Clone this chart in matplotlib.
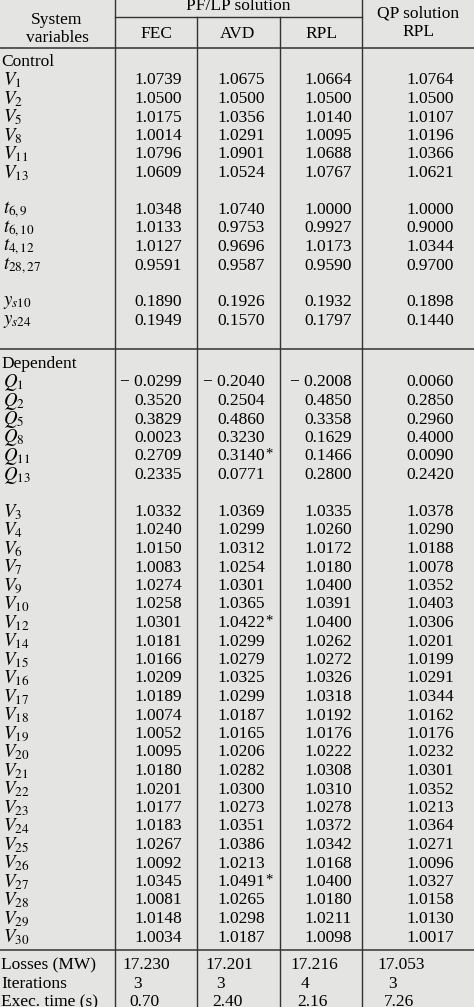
import matplotlib.pyplot as plt

plt.rcParams['mathtext.fontset'] = 'stix'
plt.rcParams['font.family'] = ['Liberation Serif', 'DejaVu Serif']

# table data
control_labels = ['$V_1$', '$V_2$', '$V_5$', '$V_8$', '$V_{11}$', '$V_{13}$', None,
                  '$t_{6,9}$', '$t_{6,10}$', '$t_{4,12}$', '$t_{28,27}$', None,
                  '$y_{s10}$', '$y_{s24}$']
fec_ctrl = ['1.0739', '1.0500', '1.0175', '1.0014', '1.0796', '1.0609', None,
            '1.0348', '1.0133', '1.0127', '0.9591', None, '0.1890', '0.1949']
avd_ctrl = ['1.0675', '1.0500', '1.0356', '1.0291', '1.0901', '1.0524', None,
            '1.0740', '0.9753', '0.9696', '0.9587', None, '0.1926', '0.1570']
rpl_ctrl = ['1.0664', '1.0500', '1.0140', '1.0095', '1.0688', '1.0767', None,
            '1.0000', '0.9927', '1.0173', '0.9590', None, '0.1932', '0.1797']
qp_ctrl = ['1.0764', '1.0500', '1.0107', '1.0196', '1.0366', '1.0621', None,
           '1.0000', '0.9000', '1.0344', '0.9700', None, '0.1898', '0.1440']

v_dep = [3, 4, 6, 7, 9, 10, 12] + list(range(14, 31))
dep_labels = ['$Q_1$', '$Q_2$', '$Q_5$', '$Q_8$', '$Q_{11}$', '$Q_{13}$', None] + \
             ['$V_{%d}$' % i for i in v_dep]
fec_dep = ['\u2212 0.0299', '0.3520', '0.3829', '0.0023', '0.2709', '0.2335', None,
           '1.0332', '1.0240', '1.0150', '1.0083', '1.0274', '1.0258', '1.0301', '1.0181',
           '1.0166', '1.0209', '1.0189', '1.0074', '1.0052', '1.0095', '1.0180', '1.0201',
           '1.0177', '1.0183', '1.0267', '1.0092', '1.0345', '1.0081', '1.0148', '1.0034']
avd_dep = ['\u2212 0.2040', '0.2504', '0.4860', '0.3230', '0.3140*', '0.0771', None,
           '1.0369', '1.0299', '1.0312', '1.0254', '1.0301', '1.0365', '1.0422*', '1.0299',
           '1.0279', '1.0325', '1.0299', '1.0187', '1.0165', '1.0206', '1.0282', '1.0300',
           '1.0273', '1.0351', '1.0386', '1.0213', '1.0491*', '1.0265', '1.0298', '1.0187']
rpl_dep = ['\u2212 0.2008', '0.4850', '0.3358', '0.1629', '0.1466', '0.2800', None,
           '1.0335', '1.0260', '1.0172', '1.0180', '1.0400', '1.0391', '1.0400', '1.0262',
           '1.0272', '1.0326', '1.0318', '1.0192', '1.0176', '1.0222', '1.0308', '1.0310',
           '1.0278', '1.0372', '1.0342', '1.0168', '1.0400', '1.0180', '1.0211', '1.0098']
qp_dep = ['0.0060', '0.2850', '0.2960', '0.4000', '0.0090', '0.2420', None,
          '1.0378', '1.0290', '1.0188', '1.0078', '1.0352', '1.0403', '1.0306', '1.0201',
          '1.0199', '1.0291', '1.0344', '1.0162', '1.0176', '1.0232', '1.0301', '1.0352',
          '1.0213', '1.0364', '1.0271', '1.0096', '1.0327', '1.0158', '1.0130', '1.0017']

summary_labels = ['Losses (MW)', 'Iterations', 'Exec. time (s)']
fec_sum = ['17.230', '3', '0.70']
avd_sum = ['17.201', '3', '2.40']
rpl_sum = ['17.216', '4', '2.16']
qp_sum = ['17.053', '3', '7.26']

fig = plt.figure(figsize=(4.74, 10.07), dpi=100)
fig.patch.set_facecolor('#e4e4e2')
ax = fig.add_axes([0, 0, 1, 1])
ax.set_xlim(0, 474)
ax.set_ylim(1007, 0)
ax.axis('off')

fs = 12.5
lc = '#333333'
vx = [115, 197, 280, 362]
right_x = [182, 265, 352, 454]
left_x = [122, 205, 290, 377]

# rules
for y in [48, 349, 950]:
    ax.plot([0, 474], [y, y], color=lc, lw=1.1)
ax.plot([115, 362], [17, 17], color=lc, lw=1.0)
for i, x in enumerate(vx):
    ax.plot([x, x], [17 if i in (1, 2) else 0, 1007], color=lc, lw=1.0)

# header
ax.text(57, 20, 'System', ha='center', va='center', fontsize=fs)
ax.text(57, 38, 'variables', ha='center', va='center', fontsize=fs)
ax.text(238, 6, 'PF/LP solution', ha='center', va='center', fontsize=fs)
for x, h in zip([156, 238, 321], ['FEC', 'AVD', 'RPL']):
    ax.text(x, 34, h, ha='center', va='center', fontsize=fs)
ax.text(418, 14, 'QP solution', ha='center', va='center', fontsize=fs)
ax.text(418, 32, 'RPL', ha='center', va='center', fontsize=fs)

step = 18.5


def block(y0, title, labels, cols):
    ax.text(1, y0, title, ha='left', va='center', fontsize=fs)
    for i, lab in enumerate(labels):
        if lab is None:
            continue
        y = y0 + (i + 1) * step
        ax.text(3, y, lab, ha='left', va='center', fontsize=fs + 1)
        for col, xr in zip(cols, right_x):
            v = col[i]
            star = v.endswith('*')
            ax.text(xr, y, v.rstrip('*'), ha='right', va='center', fontsize=fs)
            if star:
                ax.text(xr, y - 2, '*', ha='left', va='center', fontsize=fs - 2)


block(62, 'Control', control_labels, [fec_ctrl, avd_ctrl, rpl_ctrl, qp_ctrl])
block(364, 'Dependent', dep_labels, [fec_dep, avd_dep, rpl_dep, qp_dep])

for i, lab in enumerate(summary_labels):
    y = 965 + i * step
    ax.text(1, y, lab, ha='left', va='center', fontsize=fs)
    for col, xl in zip([fec_sum, avd_sum, rpl_sum, qp_sum], left_x):
        off = 11 if len(col[i]) == 1 else (7 if len(col[i]) == 4 else 0)
        ax.text(xl + off, y, col[i], ha='left', va='center', fontsize=fs)

fig.savefig('out.png', dpi=100, facecolor=fig.get_facecolor())
